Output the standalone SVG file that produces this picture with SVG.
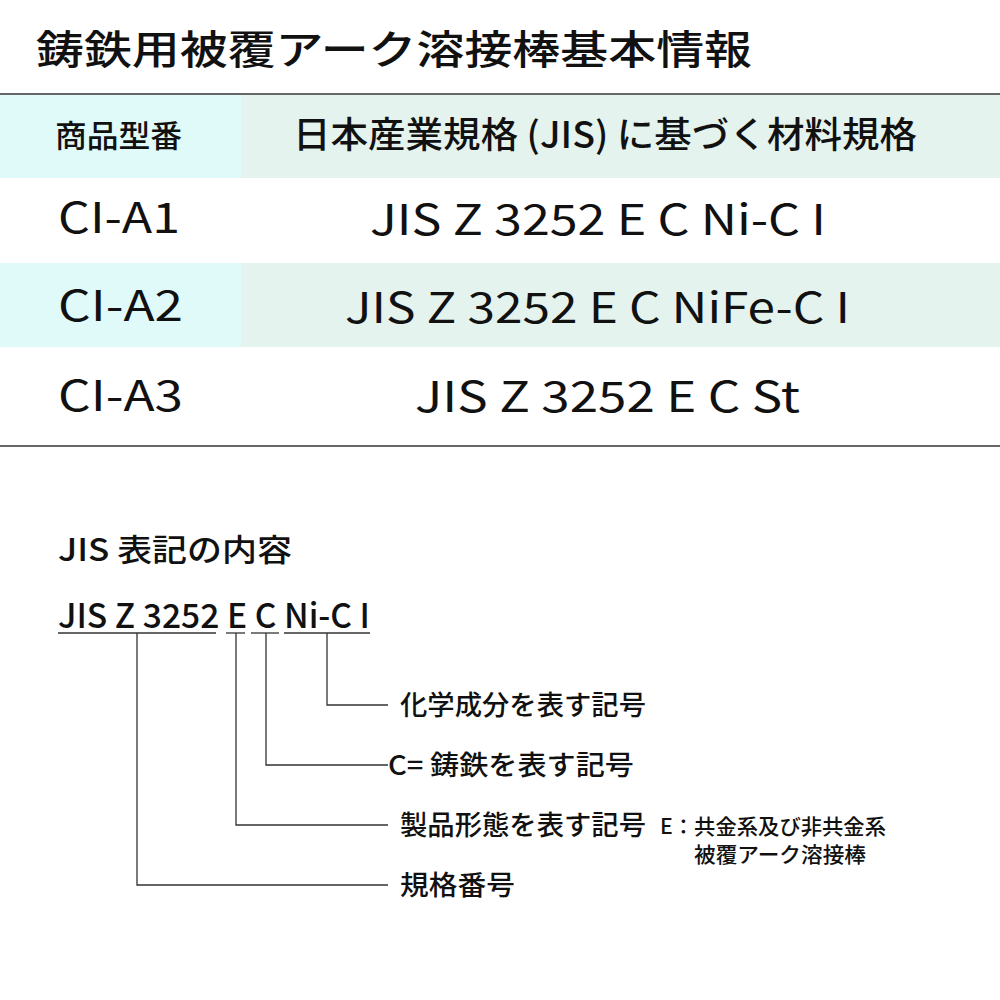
<svg xmlns="http://www.w3.org/2000/svg" width="1000" height="1000" viewBox="0 0 1000 1000">
<style>
text{font-family:"Noto Sans CJK JP","Noto Sans",sans-serif;fill:#111;font-weight:500}
.big{font-size:42px;font-weight:400}
.ln{stroke:#333;stroke-width:1.3;fill:none}
.lab{font-size:27px}
</style>
<rect width="1000" height="1000" fill="#fff"/>
<text x="36" y="64" font-size="40" textLength="716" lengthAdjust="spacingAndGlyphs">鋳鉄用被覆アーク溶接棒基本情報</text>
<g id="table">
<rect x="0" y="95" width="241" height="83" fill="#e0fafa"/>
<rect x="241" y="95" width="759" height="83" fill="#e5f3ee"/>
<rect x="0" y="263" width="241" height="84" fill="#e0fafa"/>
<rect x="241" y="263" width="759" height="84" fill="#e5f3ee"/>
<line x1="0" y1="94" x2="1000" y2="94" class="ln"/>
<line x1="0" y1="446" x2="1000" y2="446" class="ln"/>
<text x="55" y="147" font-size="31" textLength="127" lengthAdjust="spacingAndGlyphs">商品型番</text>
<text x="293" y="148" font-size="36" textLength="624" lengthAdjust="spacingAndGlyphs">日本産業規格 (JIS) に基づく材料規格</text>
<text x="58" y="233" class="big" textLength="122" lengthAdjust="spacingAndGlyphs">CI-A1</text>
<text x="370" y="235" class="big" textLength="456" lengthAdjust="spacingAndGlyphs">JIS Z 3252 E C Ni-C I</text>
<text x="58" y="321" class="big" textLength="125" lengthAdjust="spacingAndGlyphs">CI-A2</text>
<text x="345" y="323" class="big" textLength="505" lengthAdjust="spacingAndGlyphs">JIS Z 3252 E C NiFe-C I</text>
<text x="58" y="411" class="big" textLength="125" lengthAdjust="spacingAndGlyphs">CI-A3</text>
<text x="415" y="412" class="big" textLength="385" lengthAdjust="spacingAndGlyphs">JIS Z 3252 E C St</text>
</g>
<g id="jis">
<text x="58" y="561" font-size="31" font-weight="400" textLength="234" lengthAdjust="spacingAndGlyphs">JIS 表記の内容</text>
<text x="58" y="628" font-size="34" font-weight="400" textLength="312" lengthAdjust="spacingAndGlyphs">JIS Z 3252 E C Ni-C I</text>
</g>
<g id="connectors" class="ln">
<line x1="58" y1="633" x2="216" y2="633"/>
<line x1="226" y1="633" x2="245" y2="633"/>
<line x1="251" y1="633" x2="279" y2="633"/>
<line x1="284" y1="633" x2="370" y2="633"/>
<polyline points="327,633 327,705 388,705"/>
<polyline points="266,633 266,765 388,765"/>
<polyline points="236,633 236,825 388,825"/>
<polyline points="137,633 137,885 388,885"/>
</g>
<g id="labels">
<text x="400" y="715" class="lab" textLength="246" lengthAdjust="spacingAndGlyphs">化学成分を表す記号</text>
<text x="388" y="775" class="lab" textLength="246" lengthAdjust="spacingAndGlyphs">C= 鋳鉄を表す記号</text>
<text x="400" y="835" class="lab" textLength="246" lengthAdjust="spacingAndGlyphs">製品形態を表す記号</text>
<text x="400" y="895" class="lab" textLength="115" lengthAdjust="spacingAndGlyphs">規格番号</text>
<text x="660" y="834" font-size="21" textLength="226" lengthAdjust="spacingAndGlyphs">E：共金系及び非共金系</text>
<text x="694" y="862" font-size="21" textLength="172" lengthAdjust="spacingAndGlyphs">被覆アーク溶接棒</text>
</g>
</svg>
